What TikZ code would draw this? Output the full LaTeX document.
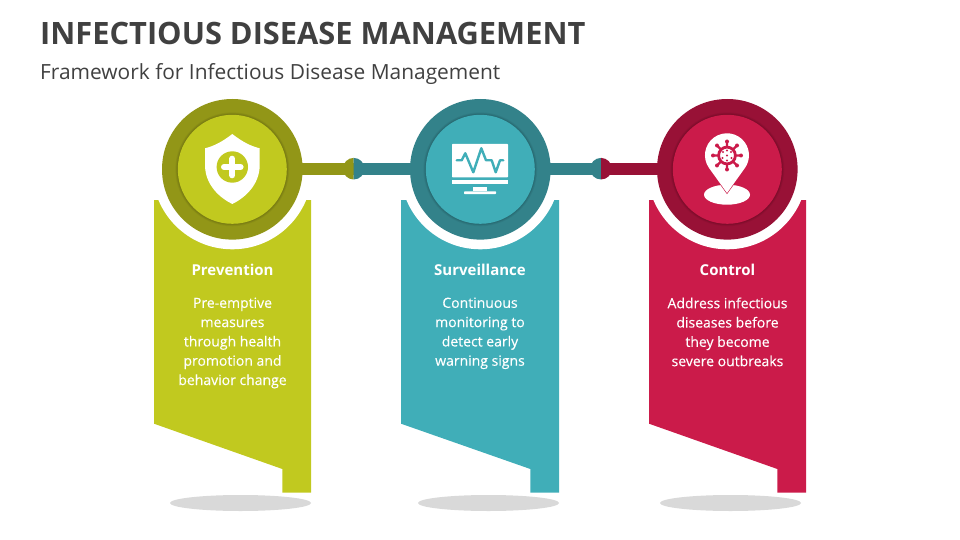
\documentclass[tikz,border=0pt]{standalone}
\usepackage{fontspec}
\usetikzlibrary{shapes.geometric}
\setmainfont{Open Sans}
\newfontfamily\blurbfont[FakeBold = .2]{Open Sans}
\definecolor{titlegray}{HTML}{404040}
\definecolor{limefill}{HTML}{C1C91F}
\definecolor{limedark}{HTML}{929617}
\definecolor{tealfill}{HTML}{40AEB8}
\definecolor{tealdark}{HTML}{33828A}
\definecolor{redfill}{HTML}{CB1B4A}
\definecolor{reddark}{HTML}{981136}
\definecolor{groundgray}{HTML}{D9D9D9}
\tikzset{
  ring/.style = {circle, inner sep = 0pt, minimum size = 140.6pt},
  disc/.style = {circle, inner sep = 0pt, minimum size = 109pt},
  clearing/.style = {circle, fill = white, inner sep = 0pt, minimum size = 160pt},
  bar/.style = {line width = 12pt},
  heading/.style = {text = white, font = \fontsize{15}{18}\selectfont\bfseries},
  blurb/.style = {text = white, align = center, font = \fontsize{14}{19.3}\blurbfont\selectfont},
  ground/.style = {ellipse, fill = groundgray, inner sep = 0pt, minimum width = 141pt, minimum height = 16pt}
}
\begin{document}
\begin{tikzpicture}[x = 1pt, y = -1pt]
  \useasboundingbox (0,0) rectangle (960,540);
  \node [anchor = base west, inner sep = 0pt, text = titlegray, font = \fontsize{30.8}{36}\selectfont\bfseries]
    (title) at (40,45) {INFECTIOUS DISEASE MANAGEMENT};
  \node [anchor = base west, inner sep = 0pt, text = titlegray, font = \fontsize{20.9}{24}\selectfont]
    (subtitle) at (40,80) {Framework for Infectious Disease Management};

  \fill [limefill] (154,200) -- (311,200) -- (311,492.7) -- (282.3,492.7) -- (282.3,469) -- (154,423.7) -- cycle;
  \fill [tealfill] (401,200) -- (559,200) -- (559,492.7) -- (530.3,492.7) -- (530.3,469) -- (401,423.7) -- cycle;
  \fill [redfill] (649,200) -- (806,200) -- (806,492.7) -- (777.3,492.7) -- (777.3,469) -- (649,423.7) -- cycle;
  \node [clearing] (clearA) at (232.3,169.3) {};
  \node [clearing] (clearB) at (480.3,169.3) {};
  \node [clearing] (clearC) at (727.3,169.3) {};

  \node [ground] (groundA) at (240.5,503) {};
  \node [ground] (groundB) at (488.5,503) {};
  \node [ground] (groundC) at (730.5,503) {};

  \node [ring, fill = limedark] (ringA) at (232.3,169.3) {};
  \node [ring, fill = tealdark] (ringB) at (480.3,169.3) {};
  \node [ring, fill = reddark] (ringC) at (727.3,169.3) {};
  \coordinate (jointA) at (353.7,168.7);
  \coordinate (jointB) at (601,168.7);
  \draw [bar, limedark] (ringA.center |- jointA) -- (jointA);
  \draw [bar, tealdark] (jointA) -- (ringB.center |- jointA);
  \draw [bar, tealdark] (ringB.center |- jointB) -- (jointB);
  \draw [bar, reddark] (jointB) -- (ringC.center |- jointB);
  \fill [limedark] (jointA) ++ (0,-10.8) arc [start angle = 270, end angle = 90, radius = 10.8] -- cycle;
  \fill [tealdark] (jointA) ++ (0,-10.8) arc [start angle = -90, end angle = 90, radius = 10.8] -- cycle;
  \fill [tealdark] (jointB) ++ (0,-10.8) arc [start angle = 270, end angle = 90, radius = 10.8] -- cycle;
  \fill [reddark] (jointB) ++ (0,-10.8) arc [start angle = -90, end angle = 90, radius = 10.8] -- cycle;

  \foreach \r in {57,56.3,55.7,55.2} {
    \fill [black, opacity = .045] (ringA) circle [radius = \r];
    \fill [black, opacity = .045] (ringB) circle [radius = \r];
    \fill [black, opacity = .045] (ringC) circle [radius = \r];
  }
  \node [disc, fill = limefill] (discA) at (ringA) {};
  \node [disc, fill = tealfill] (discB) at (ringB) {};
  \node [disc, fill = redfill] (discC) at (ringC) {};

  \fill [white] (232.3,134) .. controls (222,142) and (214,146) .. (205,148.3)
    -- (205,165) .. controls (205,185) and (220,198) .. (232.3,204)
    .. controls (244.6,198) and (259.7,185) .. (259.7,165) -- (259.7,148.3)
    .. controls (250.6,146) and (242.6,142) .. (232.3,134) -- cycle;
  \fill [limefill] (232.3,167) circle [radius = 15.7];
  \draw [white, line width = 6pt, line cap = round] (224,167) -- (240.6,167);
  \draw [white, line width = 6pt, line cap = round] (232.3,158.7) -- (232.3,175.3);

  \fill [white, rounded corners = .7pt] (452,144) rectangle (508,177.3);
  \draw [tealfill, line width = 2.4pt, line join = round, line cap = round]
    (456.7,160.3) -- (461.7,160.3) -- (465.3,153.3) -- (473.3,172.3) -- (481.3,148.3) -- (486,160.3)
    -- (491.7,160.3) -- (495.7,172.3) -- (500,160.3) -- (503.3,160.3);
  \fill [white] (452,180) rectangle (508,184.3);
  \fill [white] (473.3,187) rectangle (486.7,191.3);
  \fill [white, rounded corners = .7pt] (464,191.3) rectangle (496,194);

  \fill [white] (727,194.7) ellipse [x radius = 23, y radius = 10];
  \fill [white, draw = redfill, line width = 1.3pt] (709.1,168.1) arc [start angle = 144.3, end angle = 395.7, radius = 22]
    -- (727,193) -- cycle;
  \fill [white] (709.1,168.1) arc [start angle = 144.3, end angle = 395.7, radius = 22] -- (727,193) -- cycle;
  \draw [redfill, line width = 2.8pt] (727,155.5) circle [radius = 8.4];
  \draw [redfill, line width = 2.2pt] (727,147) -- (727,142) (735.5,155.5) -- (740.5,155.5)
    (727,164) -- (727,169) (718.5,155.5) -- (713.5,155.5)
    (733,149.5) -- (736.5,146) (733,161.5) -- (736.5,165)
    (721,161.5) -- (717.5,165) (721,149.5) -- (717.5,146);
  \fill [redfill] (727,141.5) circle [radius = 2] (741,155.5) circle [radius = 2]
    (727,169.5) circle [radius = 2] (713,155.5) circle [radius = 2]
    (737,145.5) circle [radius = 2] (737,165.5) circle [radius = 2]
    (717,165.5) circle [radius = 2] (717,145.5) circle [radius = 2];
  \fill [redfill] (727,155.5) circle [radius = 1.1] (723,152) circle [radius = 1.1]
    (731,152) circle [radius = 1.1] (722.5,158) circle [radius = 1.1]
    (731.5,158) circle [radius = 1.1] (727,160.5) circle [radius = 1.1] (727,150.5) circle [radius = 1.1];

  \node [heading] (headA) at (232.5,270) {Prevention};
  \node [heading] (headB) at (480,270) {Surveillance};
  \node [heading] (headC) at (727.5,270) {Control};
  \node [blurb, anchor = north] (textA) at (232.5,294) {Pre-emptive\\measures\\through health\\promotion and\\behavior change};
  \node [blurb, anchor = north] (textB) at (480,294) {Continuous\\monitoring to\\detect early\\warning signs};
  \node [blurb, anchor = north] (textC) at (727.5,294) {Address infectious\\diseases before\\they become\\severe outbreaks};
\end{tikzpicture}
\end{document}
